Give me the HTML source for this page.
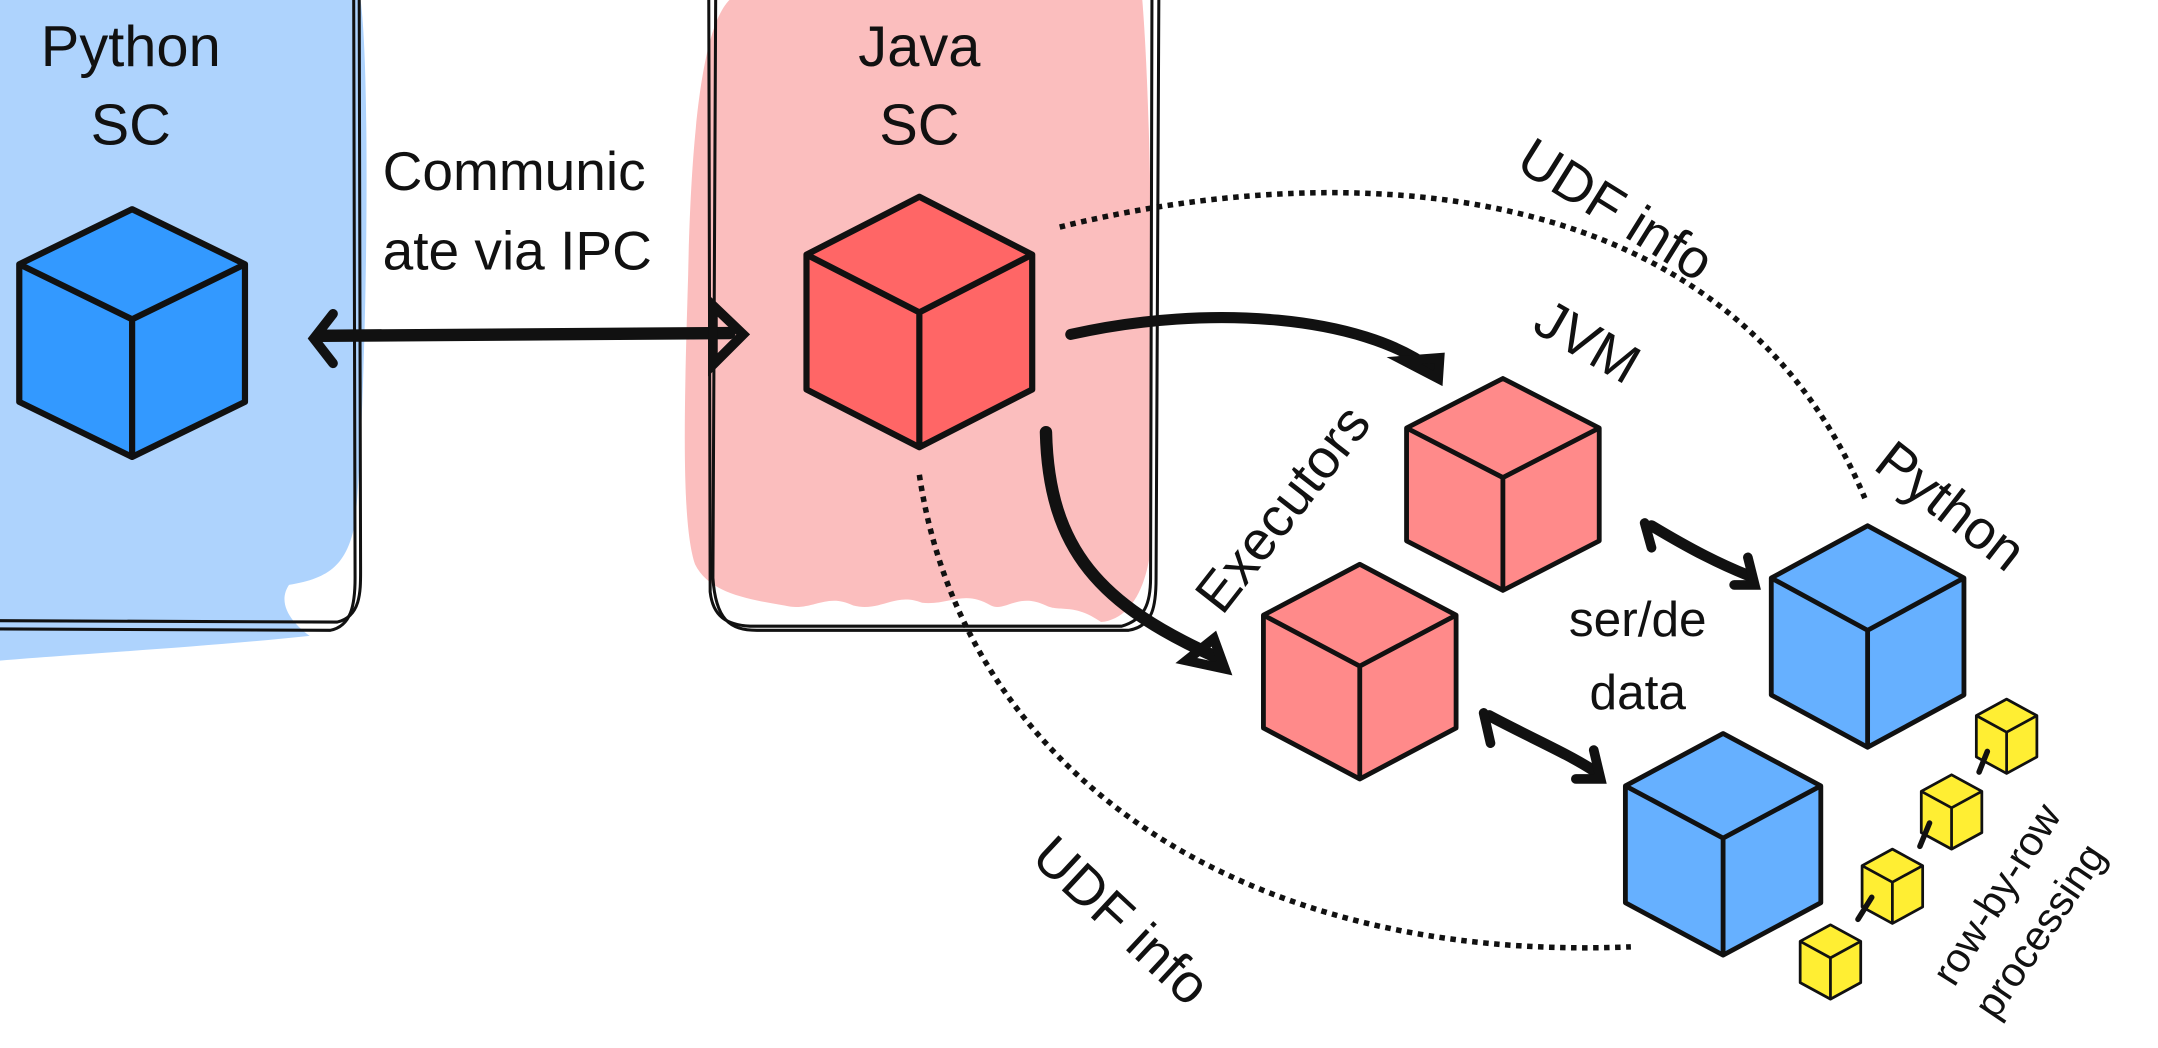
<!DOCTYPE html>
<html><head><meta charset="utf-8"><style>
html,body{margin:0;padding:0;background:#fff;}
svg{display:block;}
text{font-family:"Liberation Sans Narrow","Liberation Sans",sans-serif;fill:#111;}
</style></head><body>
<svg width="2158" height="1048" viewBox="0 0 1568 761.5" preserveAspectRatio="none" xmlns="http://www.w3.org/2000/svg">
<path d="M0,0 L262,0 C270,60 266,300 258,380 C252,410 240,420 210,425 C200,440 215,455 225,462 C150,470 60,475 0,480 Z" fill="#aed3fd"/>
<path d="M530,0 L830,0 C838,100 838,300 836,400 C832,430 820,450 800,452 C780,438 770,445 760,440 C740,430 730,445 720,440 C700,428 690,440 670,438 C650,430 640,445 620,440 C600,430 590,445 570,440 C540,435 515,430 505,410 C495,380 497,300 500,200 C502,100 510,20 530,0 Z" fill="#fbbebe"/>
<g fill="none" stroke="#111" stroke-width="2.2">
<path d="M0,457 L240,458 C255,455 258,440 258,420 L257,0"/>
<path d="M0,451 L245,452 C262,448 262,430 262,415 L261,0"/>
<path d="M520,0 L518,420 C520,450 530,458 550,458 L820,458 C838,455 840,440 840,420 L842,0"/>
<path d="M515,0 L516,430 C518,448 528,454 545,455 L815,455 C832,450 836,438 836,420 L837,0"/>
</g>
<text x="95" y="48" font-size="42" text-anchor="middle">Python</text>
<text x="95" y="105" font-size="42" text-anchor="middle">SC</text>
<text x="668" y="48" font-size="42" text-anchor="middle">Java</text>
<text x="668" y="105" font-size="42" text-anchor="middle">SC</text>
<text x="278" y="138" font-size="40">Communic</text>
<text x="278" y="196" font-size="40">ate via IPC</text>
<g stroke="#111" stroke-width="4.5" stroke-linejoin="round">
<polygon points="96,152 178,192 178,292 96,332 14,292 14,192" fill="#3399ff"/>
<path d="M14,192 L96,232 L178,192 M96,232 L96,332" fill="none"/>
<polygon points="668,143 750,185 750,283 668,325 586,283 586,185" fill="#ff6666"/>
<path d="M586,185 L668,227 L750,185 M668,227 L668,325" fill="none"/>
</g>
<g stroke="#111" stroke-width="3.5" stroke-linejoin="round">
<polygon points="1092,275 1162,311 1162,393 1092,429 1022,393 1022,311" fill="#ff8a8a"/>
<path d="M1022,311 L1092,347 L1162,311 M1092,347 L1092,429" fill="none"/>
<polygon points="988,410 1058,447 1058,529 988,566 918,529 918,447" fill="#ff8a8a"/>
<path d="M918,447 L988,484 L1058,447 M988,484 L988,566" fill="none"/>
<polygon points="1357,382 1427,420 1427,505 1357,543 1287,505 1287,420" fill="#66b0ff"/>
<path d="M1287,420 L1357,458 L1427,420 M1357,458 L1357,543" fill="none"/>
<polygon points="1252,533 1323,571 1323,656 1252,694 1181,656 1181,571" fill="#66b0ff"/>
<path d="M1181,571 L1252,609 L1323,571 M1252,609 L1252,694" fill="none"/>
</g>
<g stroke="#111" stroke-width="2" stroke-linejoin="round" fill="#ffee33">
<polygon points="1330,672 1352,684 1352,714 1330,726 1308,714 1308,684"/>
<path d="M1308,684 L1330,696 L1352,684 M1330,696 L1330,726" fill="none"/>
<polygon points="1375,617 1397,629 1397,659 1375,671 1353,659 1353,629"/>
<path d="M1353,629 L1375,641 L1397,629 M1375,641 L1375,671" fill="none"/>
<polygon points="1418,563 1440,575 1440,605 1418,617 1396,605 1396,575"/>
<path d="M1396,575 L1418,587 L1440,575 M1418,587 L1418,617" fill="none"/>
<polygon points="1458,508 1480,520 1480,550 1458,562 1436,550 1436,520"/>
<path d="M1436,520 L1458,532 L1480,520 M1458,532 L1458,562" fill="none"/>
</g>
<g stroke="#111" fill="none" stroke-linecap="round">
<path d="M232,244 L530,242" stroke-width="9"/>
<path d="M242,228 L228,246 L242,264" stroke-width="7"/>
<path d="M518,222 L540,243 L518,265 Z" stroke-width="7"/>
<path d="M778,243 C880,220 990,230 1040,268" stroke-width="8"/>
<path d="M1020,262 L1045,275 L1046,260 Z" stroke-width="7" fill="#111"/>
<path d="M760,314 C762,400 800,440 885,478" stroke-width="9"/>
<path d="M862,480 L890,486 L882,464 Z" stroke-width="7"/>
<path d="M1200,382 C1230,400 1250,410 1270,418" stroke-width="8"/>
<path d="M1195,380 L1200,398 M1270,405 L1275,425 L1260,425" stroke-width="7"/>
<path d="M1082,520 C1110,535 1140,548 1158,560" stroke-width="8"/>
<path d="M1078,518 L1083,540 M1158,545 L1163,566 L1145,566" stroke-width="7"/>
<path d="M1350,668 L1360,652 M1395,615 L1402,598 M1438,561 L1444,546" stroke-width="4"/>
</g>
<g stroke="#111" fill="none" stroke-width="4" stroke-dasharray="4,4">
<path d="M770,165 C950,120 1250,110 1355,362"/>
<path d="M668,345 C700,560 900,700 1185,688"/>
</g>
<text font-size="40" transform="translate(1100,122) rotate(32)">UDF info</text>
<text font-size="40" transform="translate(748,625) rotate(43)">UDF info</text>
<text font-size="40" transform="translate(1112,240) rotate(30)">JVM</text>
<text font-size="40" transform="translate(888,448) rotate(-52)">Executors</text>
<text font-size="40" transform="translate(1360,340) rotate(38)">Python</text>
<text font-size="36" x="1190" y="462" text-anchor="middle">ser/de</text>
<text font-size="36" x="1190" y="515" text-anchor="middle">data</text>
<text font-size="30" transform="translate(1420,718) rotate(-58)">row-by-row</text>
<text font-size="30" transform="translate(1450,742) rotate(-56)">processing</text>
</svg>
</body></html>
